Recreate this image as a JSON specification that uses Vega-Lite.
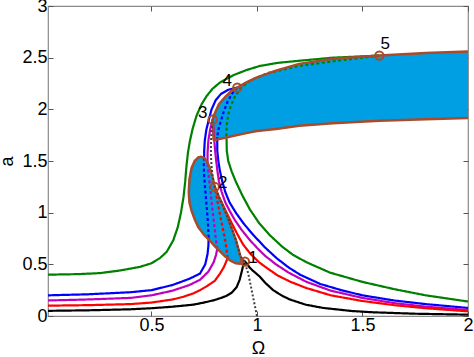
{
"$schema":"https://vega.github.io/schema/vega-lite/v6.json",
"width":420,"height":310,"autosize":"none",
"padding":{"left":48,"top":6,"right":6,"bottom":41},
"background":"white",
"datasets":{
"fillU":[
{"x":0.792,"y":1.91,"yb":1.70},{"x":0.80,"y":1.96,"yb":1.703},{"x":0.82,"y":2.05,"yb":1.712},{"x":0.85,"y":2.12,"yb":1.725},{"x":0.88,"y":2.18,"yb":1.74},{"x":0.907,"y":2.21,"yb":1.752},{"x":0.95,"y":2.26,"yb":1.77},{"x":1.0,"y":2.31,"yb":1.79},{"x":1.09,"y":2.375,"yb":1.81},{"x":1.2,"y":2.44,"yb":1.84},{"x":1.36,"y":2.49,"yb":1.865},{"x":1.58,"y":2.52,"yb":1.89},{"x":1.8,"y":2.545,"yb":1.905},{"x":2.0,"y":2.56,"yb":1.915}],
"fillI":[
{"x":0.677,"y":1.2,"yb":1.2},{"x":0.68,"y":1.32,"yb":1.1},{"x":0.69,"y":1.43,"yb":1.02},{"x":0.705,"y":1.5,"yb":0.935},{"x":0.722,"y":1.535,"yb":0.86},{"x":0.735,"y":1.54,"yb":0.82},{"x":0.75,"y":1.53,"yb":0.785},{"x":0.765,"y":1.49,"yb":0.75},{"x":0.777,"y":1.43,"yb":0.73},{"x":0.79,"y":1.34,"yb":0.70},{"x":0.80,"y":1.25,"yb":0.675},{"x":0.82,"y":1.15,"yb":0.635},{"x":0.84,"y":1.06,"yb":0.595},{"x":0.86,"y":0.96,"yb":0.56},{"x":0.88,"y":0.85,"yb":0.53},{"x":0.9,"y":0.736,"yb":0.51},{"x":0.912,"y":0.65,"yb":0.505},{"x":0.922,"y":0.574,"yb":0.506},{"x":0.935,"y":0.54,"yb":0.515},{"x":0.943,"y":0.526,"yb":0.526}],
"curves":[
{"s":"g1","x":0.01,"y":0.40},{"s":"g1","x":0.15,"y":0.405},{"s":"g1","x":0.256,"y":0.415},{"s":"g1","x":0.35,"y":0.44},{"s":"g1","x":0.445,"y":0.475},{"s":"g1","x":0.5,"y":0.51},{"s":"g1","x":0.54,"y":0.56},{"s":"g1","x":0.572,"y":0.62},{"s":"g1","x":0.603,"y":0.73},{"s":"g1","x":0.625,"y":0.86},{"s":"g1","x":0.64,"y":1.0},{"s":"g1","x":0.652,"y":1.15},{"s":"g1","x":0.66,"y":1.3},{"s":"g1","x":0.666,"y":1.45},{"s":"g1","x":0.673,"y":1.58},{"s":"g1","x":0.682,"y":1.69},{"s":"g1","x":0.695,"y":1.81},{"s":"g1","x":0.714,"y":1.94},{"s":"g1","x":0.738,"y":2.05},{"s":"g1","x":0.762,"y":2.13},{"s":"g1","x":0.79,"y":2.2},{"s":"g1","x":0.825,"y":2.26},{"s":"g1","x":0.888,"y":2.33},{"s":"g1","x":0.95,"y":2.38},{"s":"g1","x":1.014,"y":2.42},{"s":"g1","x":1.1,"y":2.45},{"s":"g1","x":1.2,"y":2.47},{"s":"g1","x":1.36,"y":2.5},{"s":"g1","x":1.58,"y":2.52},
{"s":"g2","x":1.58,"y":2.52},{"s":"g2","x":1.4,"y":2.475},{"s":"g2","x":1.2,"y":2.42},{"s":"g2","x":1.05,"y":2.35},{"s":"g2","x":0.97,"y":2.28},{"s":"g2","x":0.925,"y":2.21},{"s":"g2","x":0.897,"y":2.13},{"s":"g2","x":0.877,"y":2.04},{"s":"g2","x":0.864,"y":1.95},{"s":"g2","x":0.857,"y":1.85},{"s":"g2","x":0.855,"y":1.76},{"s":"g2","x":0.856,"y":1.72},
{"s":"g3","x":0.856,"y":1.72},{"s":"g3","x":0.857,"y":1.6},{"s":"g3","x":0.864,"y":1.5},{"s":"g3","x":0.88,"y":1.4},{"s":"g3","x":0.9,"y":1.3},{"s":"g3","x":0.93,"y":1.17},{"s":"g3","x":0.967,"y":1.03},{"s":"g3","x":1.01,"y":0.9},{"s":"g3","x":1.062,"y":0.78},{"s":"g3","x":1.12,"y":0.67},{"s":"g3","x":1.172,"y":0.59},{"s":"g3","x":1.235,"y":0.52},{"s":"g3","x":1.346,"y":0.42},{"s":"g3","x":1.5,"y":0.33},{"s":"g3","x":1.65,"y":0.26},{"s":"g3","x":1.8,"y":0.2},{"s":"g3","x":2.0,"y":0.14},
{"s":"b1","x":0.01,"y":0.20},{"s":"b1","x":0.2,"y":0.21},{"s":"b1","x":0.4,"y":0.23},{"s":"b1","x":0.5,"y":0.25},{"s":"b1","x":0.6,"y":0.3},{"s":"b1","x":0.68,"y":0.36},{"s":"b1","x":0.73,"y":0.41},{"s":"b1","x":0.755,"y":0.5},{"s":"b1","x":0.766,"y":0.6},{"s":"b1","x":0.77,"y":0.68},{"s":"b1","x":0.771,"y":0.76},
{"s":"b2","x":0.771,"y":0.76},{"s":"b2","x":0.768,"y":0.9},{"s":"b2","x":0.762,"y":1.05},{"s":"b2","x":0.756,"y":1.2},{"s":"b2","x":0.75,"y":1.35},{"s":"b2","x":0.748,"y":1.45},{"s":"b2","x":0.75,"y":1.53},
{"s":"b3","x":0.75,"y":1.53},{"s":"b3","x":0.75,"y":1.6},{"s":"b3","x":0.753,"y":1.7},{"s":"b3","x":0.76,"y":1.8},{"s":"b3","x":0.772,"y":1.9},{"s":"b3","x":0.785,"y":2.0},{"s":"b3","x":0.805,"y":2.09},{"s":"b3","x":0.83,"y":2.15},{"s":"b3","x":0.865,"y":2.19},{"s":"b3","x":0.907,"y":2.21},
{"s":"b4","x":0.907,"y":2.21},{"s":"b4","x":0.885,"y":2.16},{"s":"b4","x":0.862,"y":2.08},{"s":"b4","x":0.843,"y":1.98},{"s":"b4","x":0.828,"y":1.88},{"s":"b4","x":0.817,"y":1.8},{"s":"b4","x":0.812,"y":1.73},
{"s":"b5","x":0.812,"y":1.73},{"s":"b5","x":0.812,"y":1.6},{"s":"b5","x":0.817,"y":1.5},{"s":"b5","x":0.825,"y":1.4},{"s":"b5","x":0.836,"y":1.3},{"s":"b5","x":0.85,"y":1.2},{"s":"b5","x":0.87,"y":1.1},{"s":"b5","x":0.9,"y":1.0},{"s":"b5","x":0.935,"y":0.9},{"s":"b5","x":0.98,"y":0.79},{"s":"b5","x":1.04,"y":0.66},{"s":"b5","x":1.093,"y":0.56},{"s":"b5","x":1.15,"y":0.47},{"s":"b5","x":1.204,"y":0.4},{"s":"b5","x":1.3,"y":0.31},{"s":"b5","x":1.4,"y":0.25},{"s":"b5","x":1.5,"y":0.2},{"s":"b5","x":1.65,"y":0.15},{"s":"b5","x":1.8,"y":0.115},{"s":"b5","x":2.0,"y":0.078},
{"s":"m1","x":0.01,"y":0.15},{"s":"m1","x":0.2,"y":0.16},{"s":"m1","x":0.4,"y":0.175},{"s":"m1","x":0.5,"y":0.2},{"s":"m1","x":0.6,"y":0.245},{"s":"m1","x":0.68,"y":0.3},{"s":"m1","x":0.73,"y":0.35},{"s":"m1","x":0.77,"y":0.43},{"s":"m1","x":0.795,"y":0.52},{"s":"m1","x":0.806,"y":0.59},{"s":"m1","x":0.812,"y":0.65},
{"s":"m2","x":0.812,"y":0.65},{"s":"m2","x":0.805,"y":0.75},{"s":"m2","x":0.797,"y":0.9},{"s":"m2","x":0.788,"y":1.05},{"s":"m2","x":0.78,"y":1.2},{"s":"m2","x":0.772,"y":1.35},{"s":"m2","x":0.766,"y":1.47},
{"s":"m3","x":0.766,"y":1.47},{"s":"m3","x":0.766,"y":1.58},{"s":"m3","x":0.77,"y":1.7},{"s":"m3","x":0.778,"y":1.8},{"s":"m3","x":0.79,"y":1.9},
{"s":"m4","x":0.79,"y":1.9},{"s":"m4","x":0.795,"y":1.8},{"s":"m4","x":0.798,"y":1.7},{"s":"m4","x":0.802,"y":1.6},{"s":"m4","x":0.807,"y":1.5},{"s":"m4","x":0.813,"y":1.4},{"s":"m4","x":0.82,"y":1.3},{"s":"m4","x":0.833,"y":1.2},{"s":"m4","x":0.85,"y":1.1},{"s":"m4","x":0.87,"y":1.02},{"s":"m4","x":0.895,"y":0.93},{"s":"m4","x":0.925,"y":0.84},{"s":"m4","x":0.96,"y":0.75},{"s":"m4","x":1.0,"y":0.66},{"s":"m4","x":1.04,"y":0.58},{"s":"m4","x":1.09,"y":0.5},{"s":"m4","x":1.15,"y":0.42},{"s":"m4","x":1.235,"y":0.33},{"s":"m4","x":1.35,"y":0.245},{"s":"m4","x":1.5,"y":0.175},{"s":"m4","x":1.65,"y":0.125},{"s":"m4","x":1.8,"y":0.09},{"s":"m4","x":2.0,"y":0.058},
{"s":"r1","x":0.01,"y":0.10},{"s":"r1","x":0.2,"y":0.105},{"s":"r1","x":0.4,"y":0.115},{"s":"r1","x":0.5,"y":0.13},{"s":"r1","x":0.6,"y":0.16},{"s":"r1","x":0.65,"y":0.185},{"s":"r1","x":0.7,"y":0.22},{"s":"r1","x":0.73,"y":0.25},{"s":"r1","x":0.76,"y":0.285},{"s":"r1","x":0.8,"y":0.34},{"s":"r1","x":0.825,"y":0.41},{"s":"r1","x":0.845,"y":0.48},{"s":"r1","x":0.861,"y":0.56},
{"s":"r2","x":0.861,"y":0.56},{"s":"r2","x":0.856,"y":0.65},{"s":"r2","x":0.848,"y":0.75},{"s":"r2","x":0.835,"y":0.88},{"s":"r2","x":0.823,"y":1.0},{"s":"r2","x":0.812,"y":1.12},{"s":"r2","x":0.80,"y":1.25},
{"s":"r3","x":0.80,"y":1.25},{"s":"r3","x":0.818,"y":1.16},{"s":"r3","x":0.835,"y":1.09},{"s":"r3","x":0.856,"y":1.0},{"s":"r3","x":0.88,"y":0.9},{"s":"r3","x":0.905,"y":0.8},{"s":"r3","x":0.935,"y":0.69},{"s":"r3","x":0.97,"y":0.6},{"s":"r3","x":1.01,"y":0.52},{"s":"r3","x":1.05,"y":0.46},{"s":"r3","x":1.1,"y":0.39},{"s":"r3","x":1.16,"y":0.33},{"s":"r3","x":1.235,"y":0.27},{"s":"r3","x":1.35,"y":0.2},{"s":"r3","x":1.5,"y":0.145},{"s":"r3","x":1.65,"y":0.105},{"s":"r3","x":1.8,"y":0.075},{"s":"r3","x":2.0,"y":0.045},
{"s":"k1","x":0.01,"y":0.05},{"s":"k1","x":0.2,"y":0.055},{"s":"k1","x":0.4,"y":0.065},{"s":"k1","x":0.5,"y":0.075},{"s":"k1","x":0.6,"y":0.09},{"s":"k1","x":0.7,"y":0.11},{"s":"k1","x":0.76,"y":0.135},{"s":"k1","x":0.8,"y":0.155},{"s":"k1","x":0.83,"y":0.175},{"s":"k1","x":0.856,"y":0.195},{"s":"k1","x":0.88,"y":0.225},{"s":"k1","x":0.904,"y":0.28},{"s":"k1","x":0.918,"y":0.35},{"s":"k1","x":0.928,"y":0.43},{"s":"k1","x":0.935,"y":0.49},{"s":"k1","x":0.943,"y":0.526},{"s":"k1","x":0.951,"y":0.51},{"s":"k1","x":0.965,"y":0.47},{"s":"k1","x":0.98,"y":0.44},{"s":"k1","x":1.0,"y":0.405},{"s":"k1","x":1.014,"y":0.38},{"s":"k1","x":1.04,"y":0.32},{"s":"k1","x":1.077,"y":0.25},{"s":"k1","x":1.12,"y":0.195},{"s":"k1","x":1.156,"y":0.16},{"s":"k1","x":1.23,"y":0.11},{"s":"k1","x":1.314,"y":0.078},{"s":"k1","x":1.45,"y":0.048},{"s":"k1","x":1.55,"y":0.036},{"s":"k1","x":1.75,"y":0.022},{"s":"k1","x":2.0,"y":0.013}],
"brown":[
{"s":"u","x":0.795,"y":1.70},{"s":"u","x":0.79,"y":1.90},{"s":"u","x":0.80,"y":1.96},{"s":"u","x":0.82,"y":2.05},{"s":"u","x":0.85,"y":2.12},{"s":"u","x":0.88,"y":2.18},{"s":"u","x":0.907,"y":2.21},{"s":"u","x":0.95,"y":2.26},{"s":"u","x":1.0,"y":2.31},{"s":"u","x":1.09,"y":2.375},{"s":"u","x":1.2,"y":2.44},{"s":"u","x":1.36,"y":2.49},{"s":"u","x":1.58,"y":2.52},{"s":"u","x":1.8,"y":2.545},{"s":"u","x":2.0,"y":2.56},
{"s":"l","x":0.795,"y":1.70},{"s":"l","x":0.82,"y":1.712},{"s":"l","x":0.85,"y":1.725},{"s":"l","x":0.88,"y":1.74},{"s":"l","x":0.95,"y":1.77},{"s":"l","x":1.0,"y":1.79},{"s":"l","x":1.09,"y":1.81},{"s":"l","x":1.2,"y":1.84},{"s":"l","x":1.36,"y":1.865},{"s":"l","x":1.58,"y":1.89},{"s":"l","x":1.8,"y":1.905},{"s":"l","x":2.0,"y":1.915},
{"s":"i","x":0.943,"y":0.526},{"s":"i","x":0.92,"y":0.505},{"s":"i","x":0.9,"y":0.51},{"s":"i","x":0.875,"y":0.535},{"s":"i","x":0.85,"y":0.575},{"s":"i","x":0.825,"y":0.625},{"s":"i","x":0.8,"y":0.675},{"s":"i","x":0.777,"y":0.73},{"s":"i","x":0.75,"y":0.785},{"s":"i","x":0.722,"y":0.86},{"s":"i","x":0.705,"y":0.935},{"s":"i","x":0.69,"y":1.02},{"s":"i","x":0.68,"y":1.1},{"s":"i","x":0.677,"y":1.2},{"s":"i","x":0.68,"y":1.32},{"s":"i","x":0.69,"y":1.43},{"s":"i","x":0.705,"y":1.5},{"s":"i","x":0.722,"y":1.535},{"s":"i","x":0.735,"y":1.54},{"s":"i","x":0.75,"y":1.53},{"s":"i","x":0.765,"y":1.49},{"s":"i","x":0.777,"y":1.43},{"s":"i","x":0.79,"y":1.34},{"s":"i","x":0.80,"y":1.25},{"s":"i","x":0.82,"y":1.15},{"s":"i","x":0.84,"y":1.06},{"s":"i","x":0.86,"y":0.96},{"s":"i","x":0.88,"y":0.85},{"s":"i","x":0.9,"y":0.736},{"s":"i","x":0.912,"y":0.65},{"s":"i","x":0.922,"y":0.574},{"s":"i","x":0.935,"y":0.54},{"s":"i","x":0.943,"y":0.526}],
"bb":[
{"x":1.0,"y":0.0},{"x":0.99,"y":0.1},{"x":0.98,"y":0.2},{"x":0.97,"y":0.3},{"x":0.959,"y":0.41},{"x":0.95,"y":0.47},{"x":0.943,"y":0.526},{"x":0.935,"y":0.54},{"x":0.922,"y":0.574},{"x":0.912,"y":0.65},{"x":0.9,"y":0.736},{"x":0.88,"y":0.85},{"x":0.86,"y":0.96},{"x":0.84,"y":1.06},{"x":0.82,"y":1.15},{"x":0.80,"y":1.25},{"x":0.79,"y":1.35},{"x":0.785,"y":1.45},{"x":0.782,"y":1.55},{"x":0.782,"y":1.65},{"x":0.784,"y":1.75},{"x":0.787,"y":1.83},{"x":0.79,"y":1.9}],
"pts":[{"x":0.943,"y":0.526,"t":"1"},{"x":0.80,"y":1.25,"t":"2"},{"x":0.79,"y":1.90,"t":"3"},{"x":0.907,"y":2.21,"t":"4"},{"x":1.58,"y":2.52,"t":"5"}]
},
"encoding":{
"x":{"field":"x","type":"quantitative","scale":{"domain":[0.01,2],"nice":false,"zero":false},"axis":null},
"y":{"field":"y","type":"quantitative","scale":{"domain":[0,3],"nice":false,"zero":false},"axis":null}
},
"layer":[
{"data":{"name":"fillU"},"mark":{"type":"area","color":"#009FE3","opacity":1},
 "encoding":{
  "x":{"field":"x","type":"quantitative","scale":{"domain":[0.01,2],"nice":false,"zero":false},"axis":{"orient":"bottom","values":[0.5,1,1.5,2],"format":"~g","title":"Ω","titlePadding":5,"labelPadding":5}},
  "y":{"field":"y","type":"quantitative","scale":{"domain":[0,3],"nice":false,"zero":false},"axis":{"orient":"left","values":[0,0.5,1,1.5,2,2.5,3],"format":"~g","title":"a","titlePadding":5,"labelPadding":6}},
  "y2":{"field":"yb"}}},
{"data":{"name":"fillI"},"mark":{"type":"area","color":"#009FE3","opacity":1},
 "encoding":{
  "x":{"field":"x","type":"quantitative","scale":{"domain":[0.01,2],"nice":false,"zero":false},"axis":{"orient":"top","values":[0.5,1,1.5,2],"labels":false,"title":null}},
  "y":{"field":"y","type":"quantitative","scale":{"domain":[0,3],"nice":false,"zero":false},"axis":{"orient":"right","values":[0,0.5,1,1.5,2,2.5,3],"labels":false,"title":null}},
  "y2":{"field":"yb"}}},
{"data":{"name":"curves"},"mark":{"type":"line","strokeWidth":2.2},
 "encoding":{
  "color":{"field":"s","type":"nominal","legend":null,"scale":{"domain":["g1","g2","g3","b1","b2","b3","b4","b5","m1","m2","m3","m4","r1","r2","r3","k1"],"range":["#008000","#008000","#008000","#0000FF","#0000FF","#0000FF","#0000FF","#0000FF","#BF00BF","#BF00BF","#BF00BF","#BF00BF","#FF0000","#FF0000","#FF0000","#000000"]}},
  "strokeDash":{"field":"s","type":"nominal","legend":null,"scale":{"domain":["g1","g2","g3","b1","b2","b3","b4","b5","m1","m2","m3","m4","r1","r2","r3","k1"],"range":[[1,0],[3,2.5],[1,0],[1,0],[3,2.5],[1,0],[3,2.5],[1,0],[1,0],[3,2.5],[1,0],[1,0],[1,0],[3,2.5],[1,0],[1,0]]}},
  "order":{"value":null}}},
{"data":{"name":"brown"},"mark":{"type":"line","strokeWidth":2.5,"color":"#A94A2A"},
 "encoding":{"detail":{"field":"s","type":"nominal"},"order":{"value":null}}},
{"data":{"name":"bb"},"mark":{"type":"line","strokeWidth":2,"color":"#404040","strokeDash":[2,2]},
 "encoding":{"order":{"value":null}}},
{"data":{"name":"pts"},"mark":{"type":"point","shape":"circle","size":70,"filled":false,"stroke":"#A94A2A","strokeWidth":2,"opacity":1}},
{"data":{"name":"pts"},"transform":[{"filter":"datum.t=='1'||datum.t=='2'"}],"mark":{"type":"text","dx":8,"dy":-4,"fontSize":17,"font":"Liberation Sans","color":"black"},"encoding":{"text":{"field":"t"}}},
{"data":{"name":"pts"},"transform":[{"filter":"datum.t=='3'||datum.t=='4'"}],"mark":{"type":"text","dx":-10,"dy":-7,"fontSize":17,"font":"Liberation Sans","color":"black"},"encoding":{"text":{"field":"t"}}},
{"data":{"name":"pts"},"transform":[{"filter":"datum.t=='5'"}],"mark":{"type":"text","dx":6,"dy":-12,"fontSize":17,"font":"Liberation Sans","color":"black"},"encoding":{"text":{"field":"t"}}}
],
"resolve":{"axis":{"x":"independent","y":"independent"}},
"config":{
"view":{"stroke":"#8a8a8a","strokeWidth":1.2},
"axis":{"domain":false,"grid":false,"ticks":true,"tickSize":-5,"tickColor":"#555555","tickWidth":1,"labelFont":"Liberation Sans","labelFontSize":18,"labelColor":"#000000","labelFlush":false,"labelOverlap":false,"titleFont":"Liberation Sans","titleFontSize":18,"titleFontWeight":"normal","titleColor":"#000000"}
}
}
